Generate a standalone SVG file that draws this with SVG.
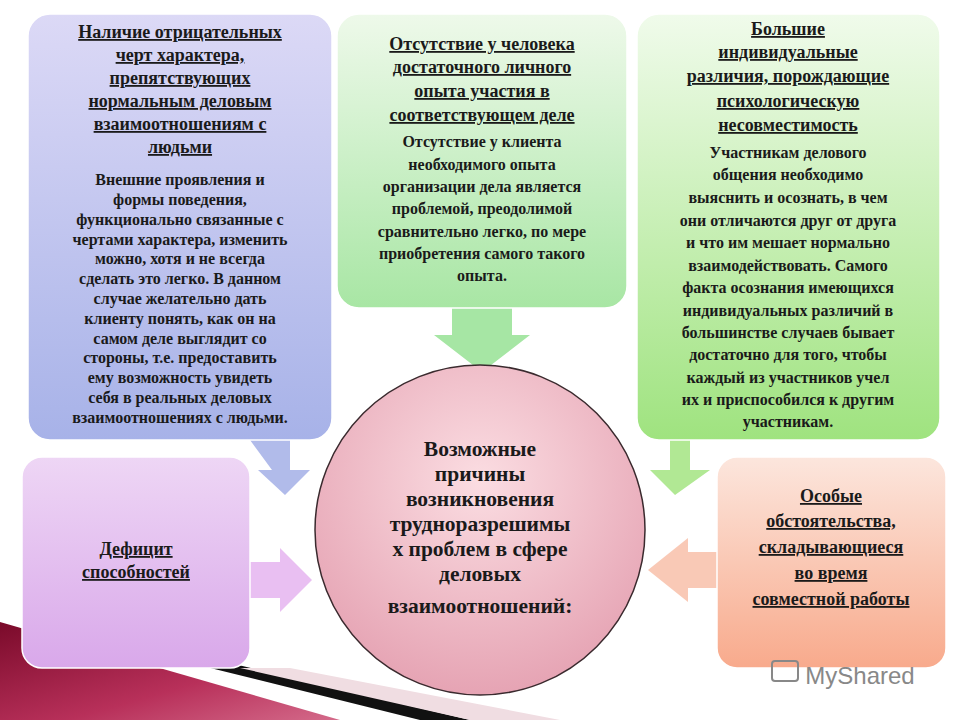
<svg xmlns="http://www.w3.org/2000/svg" width="960" height="720" viewBox="0 0 960 720">
<defs>
<linearGradient id="gTL" x1="0" y1="0" x2="0" y2="1"><stop offset="0" stop-color="#dcd9f6"/><stop offset="1" stop-color="#a7b2e8"/></linearGradient>
<linearGradient id="gTC" x1="0" y1="0" x2="0" y2="1"><stop offset="0" stop-color="#eef9ea"/><stop offset="1" stop-color="#a8e6a4"/></linearGradient>
<linearGradient id="gTR" x1="0" y1="0" x2="0" y2="1"><stop offset="0" stop-color="#f0fbeb"/><stop offset="1" stop-color="#9fe37f"/></linearGradient>
<linearGradient id="gBL" x1="0" y1="0" x2="0" y2="1"><stop offset="0" stop-color="#eed6f5"/><stop offset="1" stop-color="#d9a8ea"/></linearGradient>
<linearGradient id="gBR" x1="0" y1="0" x2="0" y2="1"><stop offset="0" stop-color="#fce6dd"/><stop offset="1" stop-color="#f8aa8c"/></linearGradient>
<radialGradient id="gC" cx="0.5" cy="0.35" r="0.7"><stop offset="0" stop-color="#fbdde2"/><stop offset="1" stop-color="#e49fb0"/></radialGradient>
<linearGradient id="gRed" x1="0" y1="0" x2="1" y2="1"><stop offset="0" stop-color="#7a0a2a"/><stop offset="0.6" stop-color="#b8305a"/><stop offset="1" stop-color="#d46a8a"/></linearGradient>
</defs>
<style>
text{font-family:"Liberation Serif","DejaVu Serif",serif;font-weight:bold;fill:#1a1a1a;text-anchor:middle}
.h{font-size:18px;text-decoration:underline}
.b{font-size:16px}
.c{font-size:21.5px}
.box{stroke:#ffffff;stroke-width:1.5}
</style>
<rect width="960" height="720" fill="#ffffff"/>
<g id="decor">
<polygon points="0,622 340,720 0,720" fill="url(#gRed)"/>
<polygon points="190,663 230,663 470,720 420,720" fill="#111"/>
<polygon points="240,668 290,668 560,720 470,720" fill="#f0dde2"/>
</g>
<g id="connectors">
<path d="M250,440 L290,440 L290,470 L310,470 L285,495 L258,470 L272,470 Z" fill="#a9b4e8" opacity="0.9"/>
<path d="M452,308 L512,308 L512,335 L530,335 L482,372 L434,335 L452,335 Z" fill="#a6e6a4"/>
<path d="M690,440 L690,470 L710,470 L675,495 L650,470 L670,470 L670,440 Z" fill="#a8e688" opacity="0.9"/>
<path d="M250,562 L280,562 L280,548 L312,580 L280,612 L280,598 L250,598 Z" fill="#e9bff2"/>
<path d="M717,552 L688,552 L688,538 L648,570 L688,602 L688,588 L717,588 Z" fill="#f9c9b6"/>
</g>
<g id="n-tl">
<rect class="box" x="28" y="14" width="304" height="426" rx="22" fill="url(#gTL)"/>
<text class="h" x="180" y="38">Наличие отрицательных</text>
<text class="h" x="180" y="61">черт характера,</text>
<text class="h" x="180" y="84">препятствующих</text>
<text class="h" x="180" y="107">нормальным деловым</text>
<text class="h" x="180" y="130">взаимоотношениям с</text>
<text class="h" x="180" y="153">людьми</text>
<text class="b" x="180" y="185">Внешние проявления и</text>
<text class="b" x="180" y="205">формы поведения,</text>
<text class="b" x="180" y="225">функционально связанные с</text>
<text class="b" x="180" y="245">чертами характера, изменить</text>
<text class="b" x="180" y="264">можно, хотя и не всегда</text>
<text class="b" x="180" y="284">сделать это легко. В данном</text>
<text class="b" x="180" y="304">случае желательно дать</text>
<text class="b" x="180" y="324">клиенту понять, как он на</text>
<text class="b" x="180" y="344">самом деле выглядит со</text>
<text class="b" x="180" y="363">стороны, т.е. предоставить</text>
<text class="b" x="180" y="383">ему возможность увидеть</text>
<text class="b" x="180" y="403">себя в реальных деловых</text>
<text class="b" x="180" y="423">взаимоотношениях с людьми.</text>
</g>
<g id="n-tc">
<rect class="box" x="337" y="14" width="290" height="294" rx="22" fill="url(#gTC)"/>
<text class="h" x="482" y="50">Отсутствие у человека</text>
<text class="h" x="482" y="73">достаточного личного</text>
<text class="h" x="482" y="97">опыта участия в</text>
<text class="h" x="482" y="121">соответствующем деле</text>
<text class="b" x="482" y="147">Отсутствие у клиента</text>
<text class="b" x="482" y="170">необходимого опыта</text>
<text class="b" x="482" y="192">организации дела является</text>
<text class="b" x="482" y="214">проблемой, преодолимой</text>
<text class="b" x="482" y="237">сравнительно легко, по мере</text>
<text class="b" x="482" y="259">приобретения самого такого</text>
<text class="b" x="482" y="281">опыта.</text>
</g>
<g id="n-tr">
<rect class="box" x="637" y="14" width="303" height="426" rx="22" fill="url(#gTR)"/>
<text class="h" x="788" y="35">Большие</text>
<text class="h" x="788" y="58">индивидуальные</text>
<text class="h" x="788" y="82">различия, порождающие</text>
<text class="h" x="788" y="107">психологическую</text>
<text class="h" x="788" y="131">несовместимость</text>
<text class="b" x="788" y="158">Участникам делового</text>
<text class="b" x="788" y="180">общения необходимо</text>
<text class="b" x="788" y="203">выяснить и осознать, в чем</text>
<text class="b" x="788" y="226">они отличаются друг от друга</text>
<text class="b" x="788" y="248">и что им мешает нормально</text>
<text class="b" x="788" y="271">взаимодействовать. Самого</text>
<text class="b" x="788" y="293">факта осознания имеющихся</text>
<text class="b" x="788" y="316">индивидуальных различий в</text>
<text class="b" x="788" y="338">большинстве случаев бывает</text>
<text class="b" x="788" y="360">достаточно для того, чтобы</text>
<text class="b" x="788" y="383">каждый из участников учел</text>
<text class="b" x="788" y="405">их и приспособился к другим</text>
<text class="b" x="788" y="427">участникам.</text>
</g>
<g id="n-bl">
<rect class="box" x="22" y="457" width="228" height="211" rx="20" fill="url(#gBL)"/>
<text class="h" x="136" y="555">Дефицит</text>
<text class="h" x="136" y="578">способностей</text>
</g>
<g id="n-br">
<rect class="box" x="717" y="457" width="229" height="211" rx="20" fill="url(#gBR)"/>
<text class="h" x="831" y="502">Особые</text>
<text class="h" x="831" y="527">обстоятельства,</text>
<text class="h" x="831" y="553">складывающиеся</text>
<text class="h" x="831" y="579">во время</text>
<text class="h" x="831" y="605">совместной работы</text>
</g>
<g id="n-center">
<circle cx="480" cy="530" r="165" fill="url(#gC)" stroke="#3a2a2e" stroke-width="1.5"/>
<text class="c" x="480" y="456">Возможные</text>
<text class="c" x="480" y="481">причины</text>
<text class="c" x="480" y="506">возникновения</text>
<text class="c" x="480" y="531">трудноразрешимы</text>
<text class="c" x="480" y="556">х проблем в сфере</text>
<text class="c" x="480" y="581">деловых</text>
<text class="c" x="480" y="613">взаимоотношений:</text>
</g>
<g id="logo">
<rect x="772" y="661" width="26" height="20" rx="3" fill="none" stroke="#888" stroke-width="2"/>
<text x="860" y="684" style="font-family:'Liberation Sans',sans-serif;font-weight:normal;font-size:24px;fill:#888">MyShared</text>
</g>
</svg>
